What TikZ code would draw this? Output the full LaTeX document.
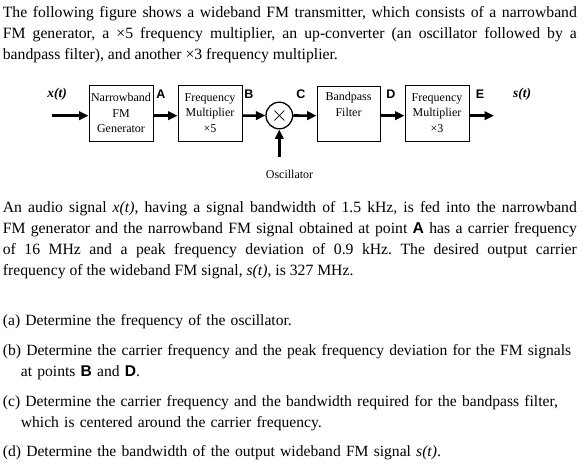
\documentclass[tikz,border=0pt]{standalone}
\usepackage{fontspec}
\setmainfont{Liberation Serif}
\newfontfamily\lblfont{Liberation Sans}
\usetikzlibrary{arrows.meta}
\frenchspacing

\tikzset{
	blk/.style={draw, line width=0.9pt, minimum width=64pt, minimum height=56pt,
		inner sep=0pt, align=center, font=\fontsize{12}{15.5}\selectfont},
	sig/.style={line width=2.6pt, -{Triangle[length=9.5pt,width=8.5pt]}},
	pt/.style={font=\lblfont\bfseries\fontsize{12.5}{14}\selectfont},
	io/.style={font=\bfseries\itshape\fontsize{13.5}{15}\selectfont},
	para/.style={anchor=base west, inner sep=0pt, text width=574pt, align=justify,
		font=\fontsize{15.7}{21.2}\selectfont},
	item/.style={anchor=base west, inner sep=0pt, text width=574pt, align=left,
		font=\fontsize{15.6}{21}\selectfont}
}
\newcommand{\ptlbl}[1]{{\lblfont\bfseries #1}}

\begin{document}
\begin{tikzpicture}[x=1pt,y=-1pt]
		\useasboundingbox (0,0) rectangle (585,471);
		% text above the figure
		\node[para] (intro) at (2.7,17.3) {The following figure shows a wideband FM transmitter, which consists of a narrowband\linebreak
			FM generator, a ×5 frequency multiplier, an up-converter (an oscillator followed by a\linebreak
			bandpass filter), and another ×3 frequency multiplier.};
		% the blocks
		\node[blk] (gen) at (121,113) {Narrowband\\FM\\Generator};
		\node[blk] (mulA) at (210,113) {Frequency\\Multiplier\\×5};
		\node[draw, circle, line width=1.3pt, minimum size=26.6pt, inner sep=0pt] (mix) at (279.3,115.5) {};
		\draw[line width=0.7pt] (mix.center) ++(-5,-5) -- ++(10,10);
		\draw[line width=0.7pt] (mix.center) ++(5,-5) -- ++(-10,10);
		\node[blk, minimum width=63pt, minimum height=55pt] (bpf) at (348.5,113.5) {Bandpass\\Filter\\\vphantom{Fy}};
		\node[blk] (mulB) at (437,113) {Frequency\\Multiplier\\×3};
		\node[font=\fontsize{12}{14}\selectfont] (osc) at (289.5,174) {Oscillator};
		\coordinate (xin) at (52,115.7);
		\coordinate (sout) at (494,115.7);
		\coordinate (oscin) at (279.3,156.7);
		% connectors
		\draw[sig] (xin) -- (gen.west |- xin);
		\draw[sig] (gen.east |- xin) -- (mulA.west |- xin);
		\draw[sig] (mulA.east |- xin) -- (mix.west);
		\draw[sig] (mix.east) -- (bpf.west |- xin);
		\draw[sig] (bpf.east |- xin) -- (mulB.west |- xin);
		\draw[sig] (mulB.east |- xin) -- (sout);
		\draw[sig] (oscin) -- (mix.south);
		% point labels
		\foreach \n/\x in {A/161,B/249,C/301,D/391,E/480}{
			\node[pt] (pt\n) at (\x,94) {\n};
		}
		\node[io] (xt) at (57,94) {x(t)};
		\node[io] (st) at (522,94) {s(t)};
		% text below the figure
		\node[para] (desc) at (2.7,212.3) {An audio signal \textit{x(t)}, having a signal bandwidth of 1.5 kHz, is fed into the narrowband\linebreak
			FM generator and the narrowband FM signal obtained at point \ptlbl{A} has a carrier frequency\linebreak
			of 16 MHz and a peak frequency deviation of 0.9 kHz. The desired output carrier\linebreak
			frequency of the wideband FM signal, \textit{s(t)}, is 327 MHz.};
		\node[item] (qa) at (2.7,325.7) {(a) Determine the frequency of the oscillator.};
		\node[item] (qb) at (2.7,355.7) {\hangindent=18pt\hangafter=1 (b) Determine the carrier frequency and the peak frequency deviation for the FM signals\newline
			at points \ptlbl{B} and \ptlbl{D}.\par};
		\node[item] (qc) at (2.7,406.7) {\hangindent=18pt\hangafter=1 (c) Determine the carrier frequency and the bandwidth required for the bandpass filter,\newline
			which is centered around the carrier frequency.\par};
		\node[item] (qd) at (2.7,456.7) {(d) Determine the bandwidth of the output wideband FM signal \textit{s(t)}.};
	\end{tikzpicture}
\end{document}
